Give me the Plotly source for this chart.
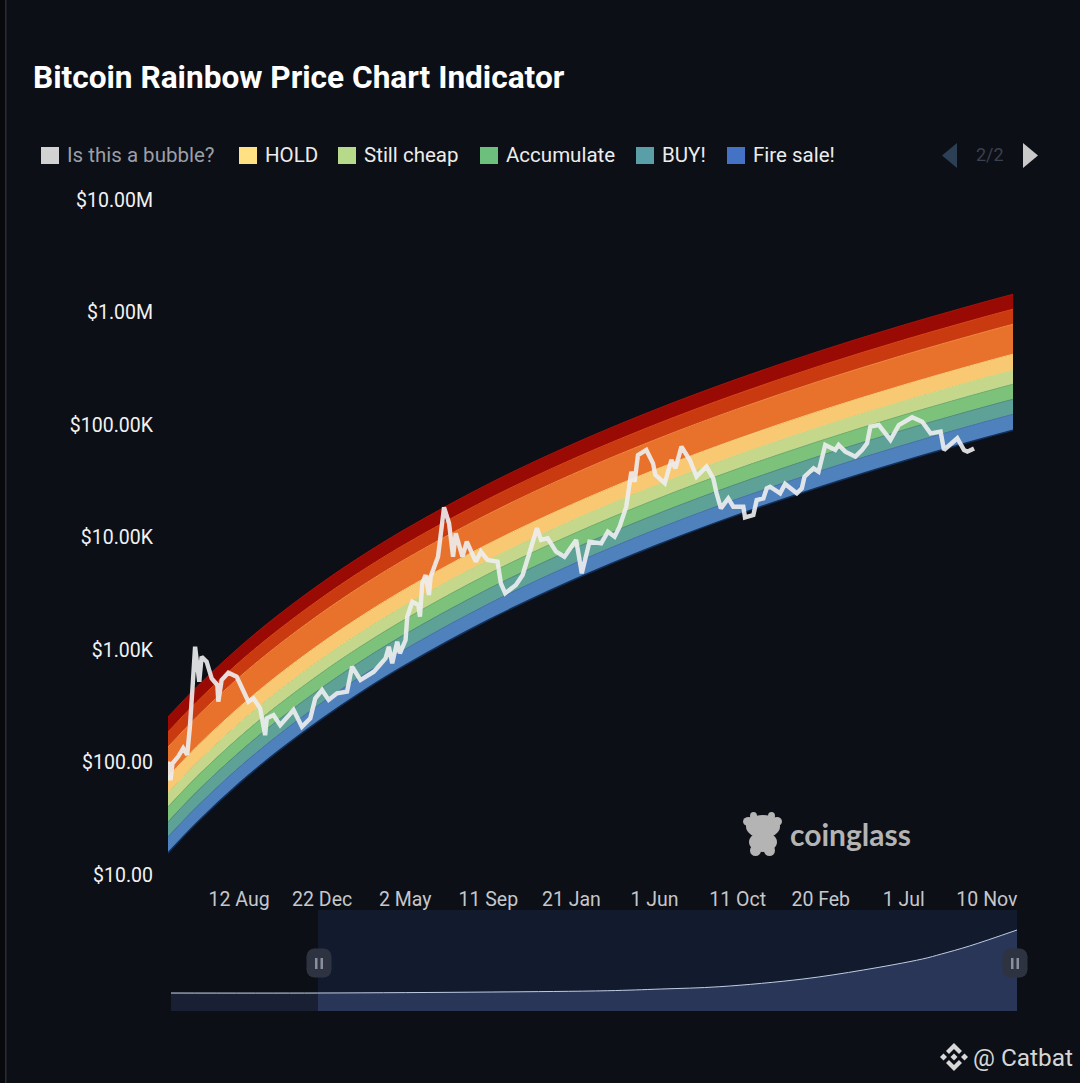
import plotly.graph_objects as go
import pandas as pd

W, H = 1080, 1083

# Bandes de l'indicateur (prix USD, du bas vers le haut)
band_dates = ["2013-06-13", "2013-12-01", "2014-08-12", "2015-04-01", "2015-12-22",
              "2016-08-01", "2017-05-02", "2018-09-11", "2020-01-21", "2021-06-01",
              "2022-10-11", "2024-02-20", "2025-07-01", "2026-11-10", "2027-04-15"]
fire_sale_low = [15.7, 29.0, 65.2, 125.6, 246, 412, 733, 1849, 4130, 8410, 15900, 28300, 47900, 77800, 89800]
buy_low = [21.8, 40.2, 90.4, 174, 341, 571, 1017, 2565, 5730, 11660, 22050, 39250, 66400, 107900, 124500]
accumulate_low = [29.6, 54.8, 123, 237, 464, 778, 1384, 3490, 7800, 15880, 30020, 53430, 90440, 146900, 169500]
still_cheap_low = [40.3, 74.4, 167, 322, 631, 1057, 1880, 4743, 10590, 21570, 40780, 72590, 122900, 199600, 230300]
hold_low = [53.6, 98.9, 222, 429, 839, 1406, 2501, 6309, 14090, 28690, 54250, 96560, 163400, 265400, 306400]
bubble_low = [74.5, 138, 309, 596, 1167, 1954, 3476, 8768, 19580, 39880, 75400, 134200, 227100, 368900, 425800]
fomo_low = [137, 254, 571, 1099, 2153, 3605, 6414, 16180, 36140, 73590, 139100, 247600, 419100, 680800, 785800]
sell_low = [187, 345, 777, 1496, 2930, 4907, 8730, 22020, 49190, 100200, 189400, 337100, 570500, 926600, 1069500]
sell_high = [254, 469, 1055, 2032, 3980, 6666, 11860, 29920, 66820, 136100, 257300, 457900, 775000, 1258800, 1453000]

# Prix du bitcoin
price_dates = ["2013-06-15", "2013-06-20", "2013-06-28", "2013-07-10", "2013-08-13", "2013-09-12", "2013-10-06",
               "2013-10-22", "2013-11-07", "2013-11-22", "2013-12-17", "2013-12-31", "2014-01-30", "2014-03-01",
               "2014-04-04", "2014-04-10", "2014-04-30", "2014-06-09", "2014-07-29", "2014-08-28", "2014-10-07",
               "2014-11-06", "2014-12-16", "2015-01-15", "2015-01-25", "2015-03-06", "2015-04-15", "2015-07-04",
               "2015-08-23", "2015-10-12", "2015-11-11", "2015-12-21", "2016-01-30", "2016-03-20", "2016-05-19",
               "2016-06-18", "2016-08-07", "2016-10-26", "2017-01-04", "2017-01-24", "2017-02-13", "2017-03-15",
               "2017-03-31", "2017-05-04", "2017-05-14", "2017-06-13", "2017-07-19", "2017-07-29", "2017-08-12",
               "2017-09-01", "2017-09-21", "2017-10-01", "2017-10-21", "2017-11-14", "2017-12-20", "2018-01-19",
               "2018-02-12", "2018-02-28", "2018-04-09", "2018-05-05", "2018-06-28", "2018-07-28", "2018-09-06",
               "2018-11-05", "2018-11-25", "2018-12-21", "2019-02-23", "2019-04-04", "2019-05-14", "2019-06-29",
               "2019-07-23", "2019-09-01", "2019-10-21", "2019-12-10", "2020-02-18", "2020-03-23", "2020-05-08",
               "2020-07-17", "2020-08-26", "2020-10-05", "2020-11-04", "2020-12-14", "2021-01-13", "2021-02-02",
               "2021-02-22", "2021-04-13", "2021-05-23", "2021-06-06", "2021-08-01", "2021-09-10", "2021-10-04",
               "2021-11-09", "2021-12-29", "2022-02-07", "2022-04-08", "2022-05-18", "2022-06-07", "2022-07-03",
               "2022-08-16", "2022-09-15", "2022-11-14", "2022-11-24", "2023-01-13", "2023-02-02", "2023-03-14",
               "2023-04-03", "2023-04-23", "2023-06-22", "2023-07-22", "2023-09-30", "2023-10-30", "2023-11-15",
               "2024-01-08", "2024-02-07", "2024-03-18", "2024-05-17", "2024-06-06", "2024-07-16", "2024-09-14",
               "2024-10-24", "2024-11-23", "2024-12-13", "2025-02-01", "2025-04-12", "2025-06-01", "2025-08-20",
               "2025-10-19", "2025-12-08", "2026-02-06", "2026-02-26", "2026-05-17", "2026-06-26", "2026-07-16",
               "2026-08-25"]
price_usd = [102, 75, 70, 98, 113, 134, 117,
             208, 472, 1069, 522, 871, 787, 560,
             489, 347, 541, 628, 579, 457, 347,
             372, 303, 175, 247, 264, 215, 293,
             208, 247, 372, 441, 360, 412, 427,
             711, 541, 641, 843, 1069, 761, 1186,
             935, 1227, 1977, 2685, 2512, 1977, 3917,
             4642, 3083, 4487, 5508, 6745, 18530, 13370,
             6745, 10890, 6745, 9183, 6095, 7482, 6310,
             6095, 3917, 3192, 3784, 4642, 7244, 12080,
             9506, 9840, 7482, 6745, 9506, 4809, 9183,
             8870, 11270, 10160, 12470, 18790, 38460, 31330,
             54080, 59980, 45600, 35970, 30340, 48870, 41210,
             64120, 48870, 34750, 42660, 33570, 24720, 18160,
             22280, 18790, 18790, 15100, 15850, 21540, 22280,
             27350, 28250, 24720, 29920, 24720, 27350, 34750,
             41210, 38460, 66370, 59980, 66370, 57940, 52360,
             59980, 68700, 96610, 100000, 73620, 100000, 117000,
             106900, 84330, 87300, 59980, 76210, 59980, 57940,
             61940]

# Apercu du curseur de zoom (echelle lineaire, en milliers)
nav_dates = ["2013-06-13", "2015-11-07", "2018-09-08", "2020-08-04", "2021-06-17", "2022-06-05",
             "2023-10-15", "2024-10-09", "2025-09-27", "2026-01-19", "2026-07-05", "2027-04-15"]
nav_values = [426, 426, 449, 480, 520, 575, 757, 970, 1230, 1348, 1537, 1916]

y_ticks = [10, 100, 1000, 10000, 100000, 1000000, 10000000]
y_labels = ["$10.00", "$100.00", "$1.00K", "$10.00K", "$100.00K", "$1.00M", "$10.00M"]
x_ticks = ["2014-08-12", "2015-12-22", "2017-05-02", "2018-09-11", "2020-01-21",
           "2021-06-01", "2022-10-11", "2024-02-20", "2025-07-01", "2026-11-10"]
x_labels = ["12 Aug", "22 Dec", "2 May", "11 Sep", "21 Jan", "1 Jun", "11 Oct", "20 Feb", "1 Jul", "10 Nov"]

band_names = ["Fire sale!", "BUY!", "Accumulate", "Still cheap", "HOLD", "Is this a bubble?", "FOMO", "Sell"]
band_tops = [buy_low, accumulate_low, still_cheap_low, hold_low, bubble_low, fomo_low, sell_low, sell_high]
band_colors = ["#4f81bd", "#5da197", "#7cc27b", "#c5d78a", "#f8c873", "#e8722c", "#c93a10", "#9a0a05"]
band_edges = ["#4a77ad", "#578f88", "#74b274", "#cfe090", "#fbd27d", "#f58a45", "#e0481a", "#a81208"]

legend_items = [("Is this a bubble?", "#d2d2d2", "#9b9fa7", 41), ("HOLD", "#ffe082", "#ececec", 239),
                ("Still cheap", "#b6d98a", "#ececec", 338), ("Accumulate", "#6dbf7c", "#ececec", 480),
                ("BUY!", "#5a9ea8", "#ececec", 636), ("Fire sale!", "#4472c4", "#ececec", 727)]

BG = "#0c0f16"
FONT = "Roboto"


def px(x):
    return x / W


def py(y):
    return 1 - y / H


def rect(x0, y0, x1, y1, color, layer="above"):
    return dict(type="rect", xref="paper", yref="paper", x0=px(x0), x1=px(x1), y0=py(y0), y1=py(y1),
                fillcolor=color, line_width=0, layer=layer)


def ellipse(x0, y0, x1, y1, color):
    return dict(type="circle", xref="paper", yref="paper", x0=px(x0), x1=px(x1), y0=py(y0), y1=py(y1),
                fillcolor=color, line_width=0, layer="above")


def poly(points, color, layer="above"):
    d = "M" + " L".join(f"{px(a):.5f},{py(b):.5f}" for a, b in points) + " Z"
    return dict(type="path", xref="paper", yref="paper", path=d, fillcolor=color, line_width=0, layer=layer)


def text(s, x, y, size, color, anchor="left", bold=False, family=FONT):
    return dict(text=f"<b>{s}</b>" if bold else s, x=px(x), y=py(y), xref="paper", yref="paper",
                xanchor=anchor, yanchor="middle", showarrow=False, font=dict(size=size, color=color, family=family))


fig = go.Figure()

# Ligne de base puis les bandes
fig.add_trace(go.Scatter(x=band_dates, y=fire_sale_low, mode="lines", line=dict(color="#12305c", width=1.5, shape="spline"),
                         hoverinfo="skip", showlegend=False))
for name, top, color, edge in zip(band_names, band_tops, band_colors, band_edges):
    fig.add_trace(go.Scatter(x=band_dates, y=top, mode="lines", name=name, fill="tonexty", fillcolor=color,
                             line=dict(color=edge, width=1, shape="spline"), showlegend=False))

fig.add_trace(go.Scatter(x=pd.to_datetime(price_dates), y=price_usd, mode="lines", name="Price",
                         line=dict(color="#efeff1", width=4.4), opacity=0.9, showlegend=False))

# Apercu du curseur
fig.add_trace(go.Scatter(x=nav_dates, y=nav_values, xaxis="x2", yaxis="y2", mode="lines", fill="tozeroy",
                         fillcolor="#2a3657", line=dict(color="#c0cce4", width=1, shape="spline"),
                         hoverinfo="skip", showlegend=False))

shapes = []
# Fenetre selectionnee et zone non selectionnee
shapes.append(rect(318, 910, 1017, 1011, "#121a2e", "below"))
shapes.append(rect(171, 994, 318, 1011, "rgba(12,15,22,0.55)"))
# Poignees
for cx in (319, 1015):
    shapes.append(rect(cx - 12.5, 957, cx + 12.5, 969, "#2e3342"))
    shapes.append(rect(cx - 4.5, 948.5, cx + 4.5, 977.5, "#2e3342"))
    shapes.append(ellipse(cx - 12.5, 948.5, cx + 3.5, 964.5, "#2e3342"))
    shapes.append(ellipse(cx - 3.5, 948.5, cx + 12.5, 964.5, "#2e3342"))
    shapes.append(ellipse(cx - 12.5, 961.5, cx + 3.5, 977.5, "#2e3342"))
    shapes.append(ellipse(cx - 3.5, 961.5, cx + 12.5, 977.5, "#2e3342"))
    shapes.append(rect(cx - 4, 958, cx - 1.5, 969, "#8a8f9c"))
    shapes.append(rect(cx + 1.5, 958, cx + 4, 969, "#8a8f9c"))
# Legende
for label, swatch, color, x in legend_items:
    shapes.append(rect(x, 147, x + 18, 164, swatch))
# Pagination de la legende
shapes.append(poly([(957, 143), (957, 168), (942, 155.5)], "#2c3f55"))
shapes.append(poly([(1023, 143), (1023, 168), (1038, 155.5)], "#c9c9c9"))
# Bordure gauche
shapes.append(rect(0, 0, 5, H, "#08090d"))
shapes.append(rect(5, 0, 6.5, H, "#2a2d33"))
# Logo coinglass
for x0, y0, x1, y1 in [(746, 815, 780, 838), (743, 817, 754, 826), (772, 817, 782, 826), (750, 812, 757, 820),
                       (768, 812, 775, 820), (749, 832, 777, 852), (750, 845, 761, 856), (764, 845, 775, 856)]:
    shapes.append(ellipse(x0, y0, x1, y1, "#b4b4b4"))
# Logo Binance
cx, cy = 954, 1057
logo_parts = [
    [(cx, cy - 3.5), (cx + 3.5, cy), (cx, cy + 3.5), (cx - 3.5, cy)],
    [(cx - 14, cy), (cx - 10.5, cy - 3.5), (cx - 7, cy), (cx - 10.5, cy + 3.5)],
    [(cx + 14, cy), (cx + 10.5, cy - 3.5), (cx + 7, cy), (cx + 10.5, cy + 3.5)],
    [(cx - 8, cy - 6), (cx, cy - 14), (cx + 8, cy - 6), (cx + 5, cy - 3), (cx, cy - 8), (cx - 5, cy - 3)],
    [(cx - 8, cy + 6), (cx, cy + 14), (cx + 8, cy + 6), (cx + 5, cy + 3), (cx, cy + 8), (cx - 5, cy + 3)],
]
for part in logo_parts:
    shapes.append(poly(part, "#d8d8d8"))

annotations = [text("Bitcoin Rainbow Price Chart Indicator", 31, 78, 31.6, "#ffffff", bold=True),
               text("2/2", 989.5, 155, 18, "#3b414d", "center"),
               text("<b>coinglass</b>", 788, 834, 30, "#b4b4b4", family="Lato"),
               text("@ Catbat", 971, 1057, 24.4, "#d6d6d6")]
for label, swatch, color, x in legend_items:
    annotations.append(text(label, x + 23.5, 155, 20.5, color))

fig.update_layout(
    template="none",
    width=W, height=H, autosize=False,
    margin=dict(l=0, r=0, t=0, b=0, pad=0),
    paper_bgcolor=BG, plot_bgcolor=BG,
    font=dict(family=FONT, color="#ffffff"),
    showlegend=False,
    shapes=shapes, annotations=annotations,
    xaxis=dict(domain=[px(168), px(1013)], anchor="y", type="date", range=["2013-06-13", "2027-04-15"], automargin=False,
               tickmode="array", tickvals=x_ticks, ticktext=x_labels, showgrid=False, zeroline=False, showline=False,
               ticks="", tickfont=dict(size=19.5, color="#c4c7cc"), ticklabelstandoff=10),
    yaxis=dict(domain=[py(875), py(200)], anchor="x", type="log", range=[1, 7], automargin=False,
               tickmode="array", tickvals=y_ticks, ticktext=y_labels, showgrid=False, zeroline=False, showline=False,
               ticks="", tickfont=dict(size=19.5, color="#f2f2f2"), ticklabelstandoff=14),
    xaxis2=dict(domain=[px(171), px(1017)], anchor="y2", type="date", range=["2013-06-13", "2027-04-15"],
                visible=False, automargin=False),
    yaxis2=dict(domain=[py(1011), py(910)], anchor="x2", range=[0, 2389], visible=False, automargin=False),
)

fig.write_html("out.html", config=dict(displayModeBar=False),
               post_script=f"document.body.style.margin='0';document.body.style.background='{BG}';")
